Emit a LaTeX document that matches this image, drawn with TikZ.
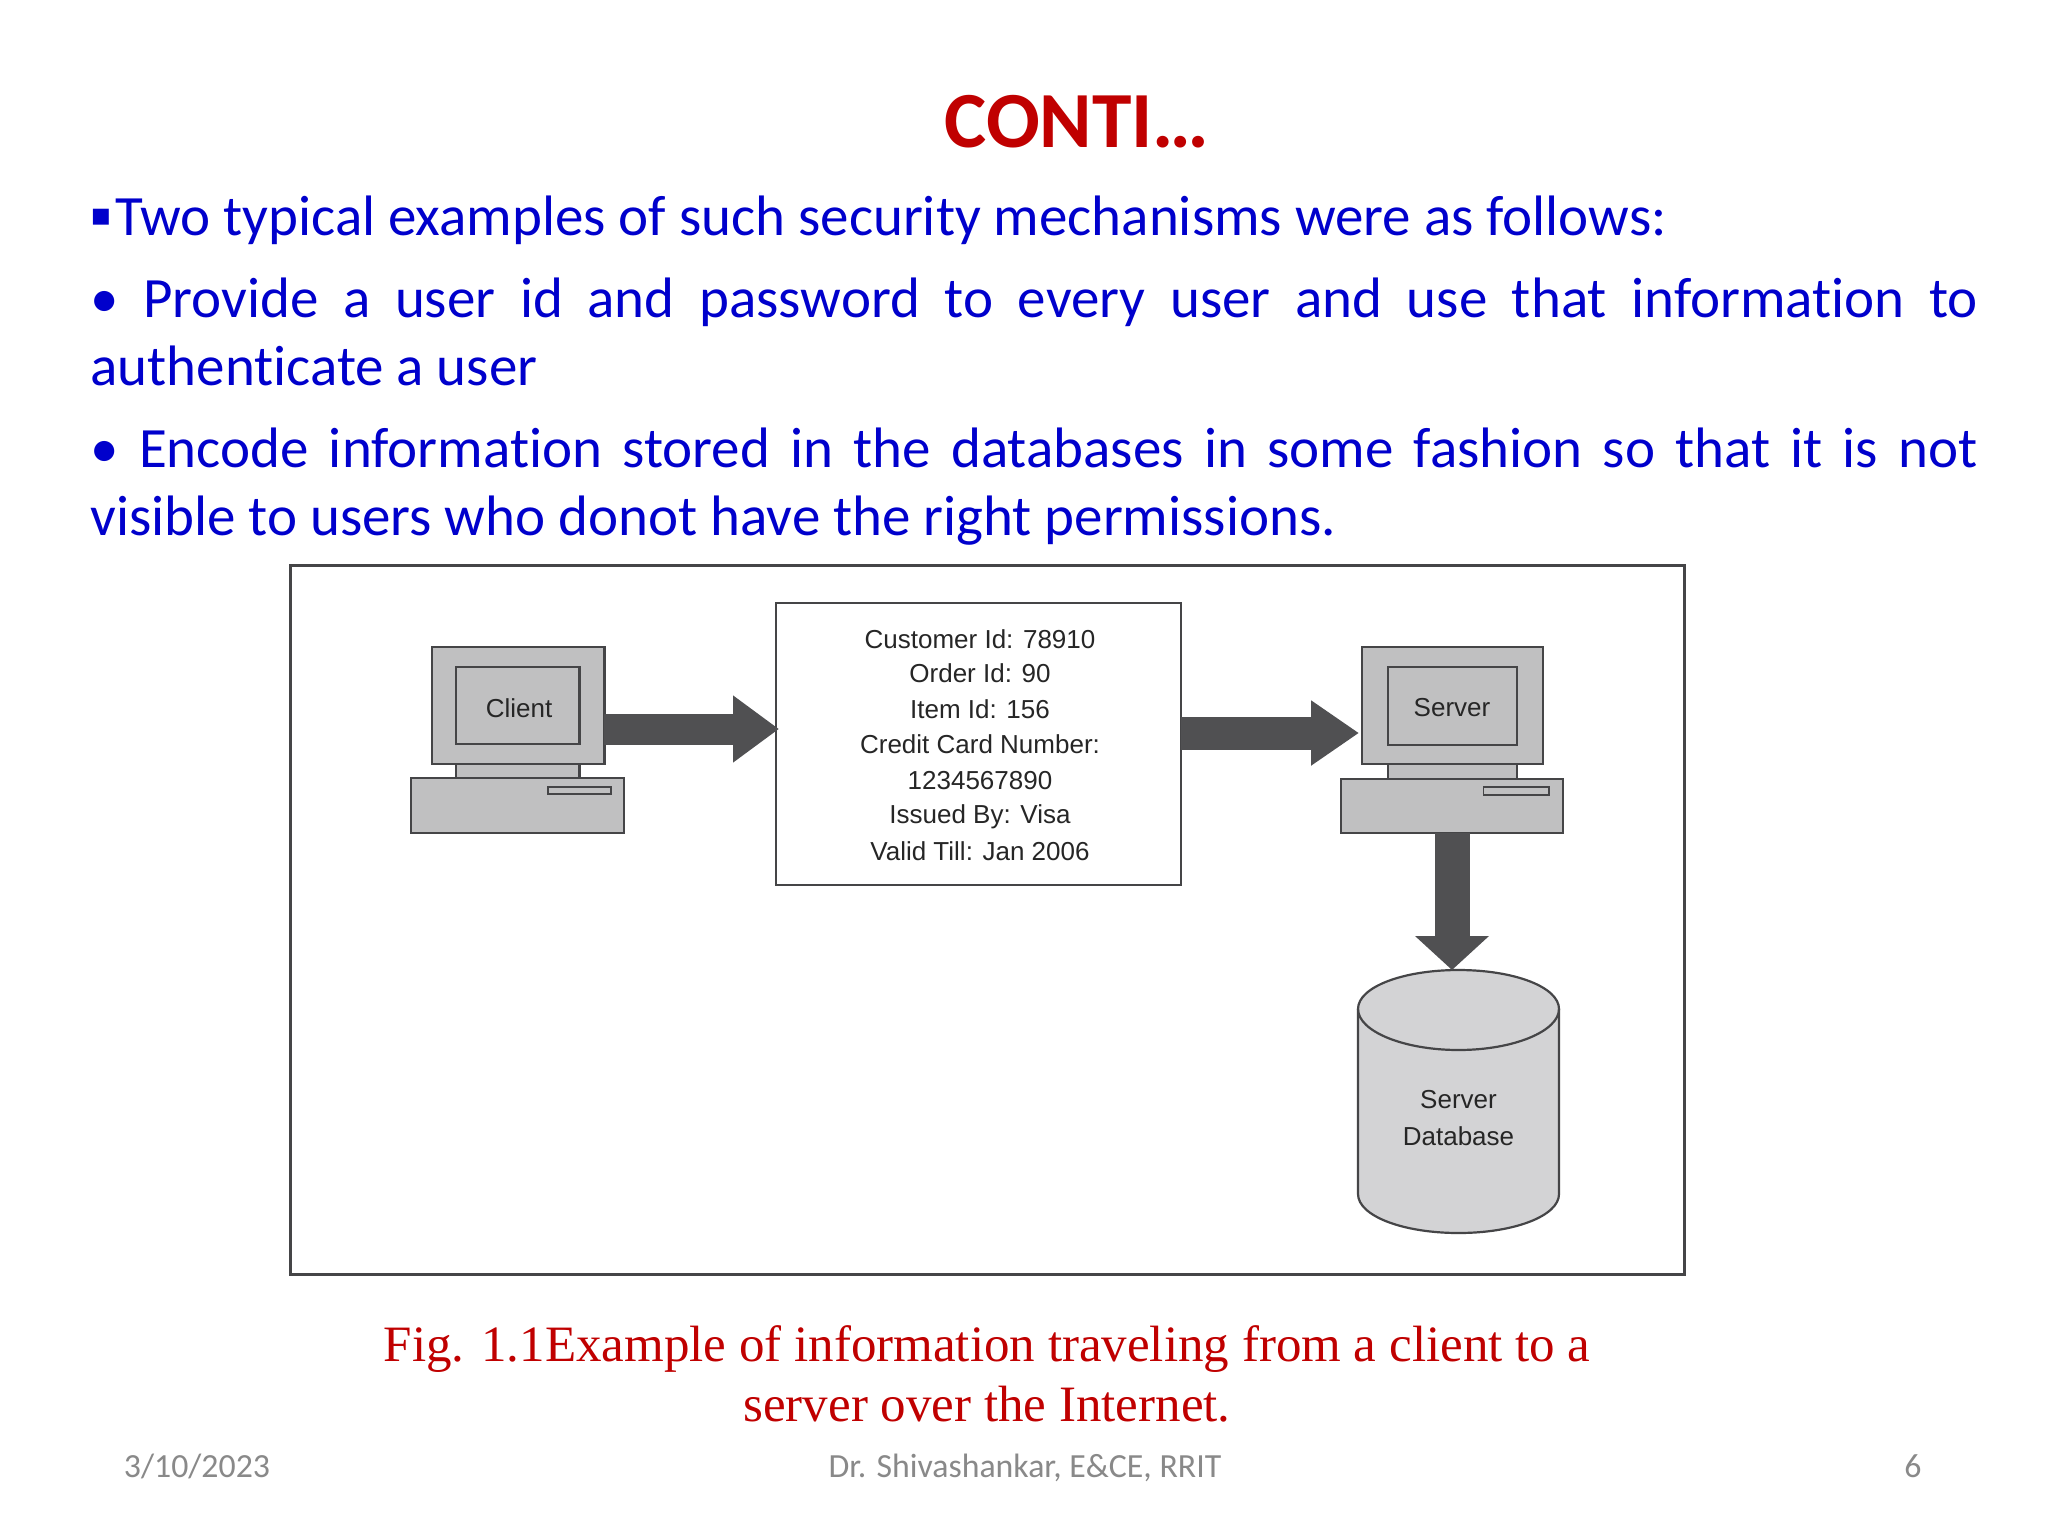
\documentclass[tikz,border=0pt]{standalone}
\usepackage{fontspec}
\setmainfont{Carlito}[Ligatures=NoCommon]
\newfontfamily\arialf{Liberation Sans}
\newfontfamily\timesf{Liberation Serif}
\newfontfamily\symf{DejaVu Sans}
\usetikzlibrary{arrows.meta}
\definecolor{slideblue}{HTML}{0000CC}
\definecolor{slidered}{HTML}{C00000}
\definecolor{foot}{HTML}{898989}
\definecolor{pcgray}{HTML}{C0C0C1}
\definecolor{dbgray}{HTML}{D3D3D5}
\definecolor{edge}{HTML}{454547}
\definecolor{arrowdark}{HTML}{505052}
\tikzset{
  x=0.5pt,y=-0.5pt,
  body/.style={anchor=base west,inner sep=0pt,text=slideblue,font=\fontsize{28.5}{34}\selectfont},
  part/.style={draw=edge,fill=pcgray,line width=1.1pt,inner sep=0pt,outer sep=0pt,rectangle},
  label/.style={inner sep=0pt,text=black!85,font=\arialf\fontsize{13}{16}\selectfont},
  capt/.style={anchor=base,inner sep=0pt,text=slidered,font=\timesf\fontsize{25.5}{30}\selectfont},
  footer/.style={anchor=base,inner sep=0pt,text=foot,font=\fontsize{16.9}{21}\selectfont},
}
\begin{document}
\begin{tikzpicture}
\useasboundingbox[fill=white] (0,0) rectangle (2048,1536);
% title
\node[inner sep=0pt,text=slidered,font=\bfseries\fontsize{39.8}{46}\selectfont] (title) at (1077,122) {CONTI…};
% body
\node[body] (l1) at (90,235) {\raisebox{4.6pt}{\symf\fontsize{16}{18}\selectfont ▪}\kern1.5pt Two typical examples of such security mechanisms were as follows:};
\node[body] (l2) at (90,317) {\makebox[943.8pt][s]{• Provide a user id and password to every user and use that information to}};
\node[body] (l3) at (90,385) {authenticate a user};
\node[body] (l4) at (90,467) {\makebox[943.8pt][s]{• Encode information stored in the databases in some fashion so that it is not}};
\node[body] (l5) at (90,535) {visible to users who donot have the right permissions.};
% frame
\node[draw=edge,line width=1.5pt,inner sep=0pt,outer sep=0pt,minimum width=697pt,minimum height=354.5pt] (frame) at (987,919.5) {};
% client pc
\node[part,minimum width=86.2pt,minimum height=58.5pt] (cmon) at (518.2,705.5) {};
\node[part,minimum width=61.7pt,minimum height=38.5pt] (cscreen) at (517.7,705.5) {};
\node[part,minimum width=61.7pt,minimum height=7pt] (cneck) at (517.7,771) {};
\node[part,minimum width=106.5pt,minimum height=27.5pt] (cbase) at (517.5,805.5) {};
\node[part,line width=0.8pt,minimum width=31.5pt,minimum height=3.5pt] (cslot) at (579.5,790.5) {};
\node[label] (clabel) at (519,708) {Client};
% message box
\node[draw=edge,fill=white,line width=1.2pt,inner sep=0pt,outer sep=0pt,minimum width=202.5pt,minimum height=141pt] (msg) at (978.5,744) {};
\node[label] (m1) at (980,639) {Customer Id: 78910};
\node[label] (m2) at (980,673) {Order Id: 90};
\node[label] (m3) at (980,709) {Item Id: 156};
\node[label] (m4) at (980,744) {Credit Card Number:};
\node[label] (m5) at (980,781) {1234567890};
\node[label] (m6) at (980,817) {Issued By: Visa};
\node[label] (m7) at (980,851) {Valid Till: Jan 2006};
% server pc
\node[part,minimum width=90.5pt,minimum height=58.5pt] (smon) at (1452.5,705.5) {};
\node[part,minimum width=64.5pt,minimum height=39pt] (sscreen) at (1452.5,706) {};
\node[part,minimum width=64.5pt,minimum height=7.5pt] (sneck) at (1452.5,771.5) {};
\node[part,minimum width=111pt,minimum height=27pt] (sbase) at (1452,806) {};
\node[part,line width=0.8pt,minimum width=32.7pt,minimum height=4pt] (sslot) at (1516.2,791) {};
\node[label] (slabel) at (1452,708) {Server};
% database
\path[draw=edge,fill=dbgray,line width=1.1pt]
  (1358,1009) -- (1358,1194)
  .. controls (1358,1216) and (1403,1233) .. (1458.5,1233)
  .. controls (1514,1233) and (1559,1216) .. (1559,1194)
  -- (1559,1009)
  .. controls (1559,987) and (1514,970) .. (1458.5,970)
  .. controls (1403,970) and (1358,987) .. (1358,1009) -- cycle;
\path[draw=edge,line width=1.1pt]
  (1358,1009) .. controls (1358,1031) and (1403,1050) .. (1458.5,1050)
  .. controls (1514,1050) and (1559,1031) .. (1559,1009);
\coordinate (dbtop) at (1458.5,970);
\node[label] (d1) at (1458.5,1100) {Server};
\node[label] (d2) at (1458.5,1136) {Database};
% arrows
\coordinate (a1) at (700,729);
\coordinate (a2) at (1250,733);
\draw[line width=15.5pt,-{Triangle[length=23pt,width=32pt]},arrowdark,shorten >=-1.5pt] (cmon.east |- a1) -- (msg.west |- a1);
\draw[line width=16.5pt,-{Triangle[length=24pt,width=31pt]},arrowdark,shorten >=1.5pt] (msg.east |- a2) -- (smon.west |- a2);
\draw[line width=17.5pt,-{Triangle[length=17pt,width=36pt]},arrowdark] (sbase.south) -- (sbase.south |- dbtop);
% caption
\node[capt] (c1) at (987,1361) {Fig. 1.1Example of information traveling from a client to a};
\node[capt] (c2) at (987,1421) {server over the Internet.};
% footer
\node[footer] (f1) at (197,1477) {3/10/2023};
\node[footer] (f2) at (1025,1477) {Dr. Shivashankar, E\&CE, RRIT};
\node[footer] (f3) at (1921,1477) {\kern-8pt 6};
\end{tikzpicture}
\end{document}
